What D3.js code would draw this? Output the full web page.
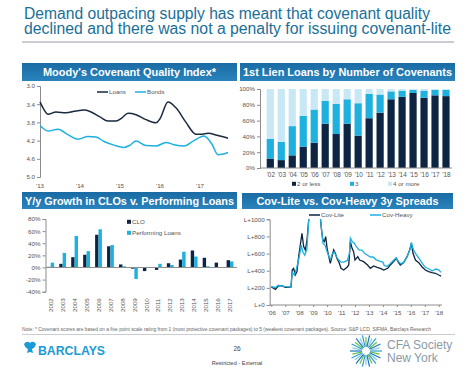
<!DOCTYPE html>
<html><head><meta charset="utf-8">
<script src="https://cdn.jsdelivr.net/npm/d3@7"></script>
<style>body{margin:0;background:#fff}svg{display:block;font-family:Arial,"Liberation Sans",sans-serif}</style>
</head><body><svg id="c" width="474" height="368"></svg>
<script>
// ---------- DATA ----------
const titleLines = ["Demand outpacing supply has meant that covenant quality","declined and there was not a penalty for issuing covenant-lite"];
// Moody's covenant quality index
const moodysTicks = [3.0,3.4,3.8,4.2,4.6,5.0];
const moodysYears = [2013,2014,2015,2016,2017];
const moodysYearLabels = ["'13","'14","'15","'16","'17"];
const loanDates = [2013.0,2013.1,2013.2,2013.4,2013.65,2013.9,2014.1,2014.25,2014.5,2014.7,2014.9,2015.05,2015.2,2015.4,2015.65,2015.9,2016.0,2016.2,2016.4,2016.65,2016.9,2017.05,2017.2,2017.45,2017.7];
const loanValues = [3.35,3.52,3.62,3.57,3.59,3.55,3.53,3.56,3.68,3.77,3.77,3.70,3.60,3.63,3.74,3.81,3.72,3.35,3.48,3.80,4.06,4.06,4.04,4.09,4.15];
const bondDates = [2013.0,2013.2,2013.45,2013.7,2013.95,2014.2,2014.4,2014.6,2014.85,2015.1,2015.25,2015.4,2015.65,2015.9,2016.15,2016.35,2016.6,2016.85,2017.1,2017.3,2017.45,2017.55,2017.7];
const bondValues = [3.87,3.99,3.95,4.07,4.17,4.11,4.12,4.22,4.30,4.35,4.30,4.21,4.31,4.32,4.24,4.29,4.32,4.20,4.10,4.28,4.51,4.50,4.46];
// 1st lien loans by number of covenants (%)
const lienYears = ["'02","'03","'04","'05","'06","'07","'08","'09","'10","'11","'12","'13","'14","'15","'16","'17","'18"];
const twoOrLess = [12,10,16,27,32,56,43,56,41,63,70,87,90,95,89,92,91];
const three     = [25,23,37,39,42,29,38,31,41,31,23,10,8,4,9,7,8];
const fourOrMore= [63,67,47,34,26,15,19,13,18,6,7,3,2,1,2,1,1];
const lienTicks = [0,20,40,60,80,100];
// Y/y growth CLO vs performing loans (%)
const growthYears = ["2002","2003","2004","2005","2006","2007","2008","2009","2010","2011","2012","2013","2014","2015","2016","2017"];
const cloGrowth = [1,6,17,21,54,35,5,-2,-6,-4,7,13,28,16,8,12];
const plGrowth  = [8,24,52,27,63,37,2,-19,0,6,4,26,18,2,0,10];
const growthTicks = [80,60,40,20,0,-20,-40];
// Cov-lite vs cov-heavy 3y spreads (bps over L)
const spreadYears = [2006,2007,2008,2009,2010,2011,2012,2013,2014,2015,2016,2017,2018];
const spreadYearLabels = ["'06","'07","'08","'09","'10","'11","'12","'13","'14","'15","'16","'17","'18"];
const spreadTicks = [0,200,400,600,800,1000];
const liteDates = [2006.0,2006.15,2006.3,2006.5,2006.75,2007.0,2007.2,2007.42,2007.5,2007.6,2007.72,2007.84,2007.96,2008.13,2008.2,2008.32,2008.44,2008.56,2008.68,2008.8,2009.0,2009.3,2009.5,2009.6,2009.7,2009.8,2009.9,2010.0,2010.1,2010.23,2010.35,2010.47,2010.59,2010.7,2010.83,2011.0,2011.19,2011.43,2011.55,2011.67,2011.79,2011.9,2012.0,2012.2,2012.33,2012.62,2012.9,2013.1,2013.34,2013.58,2013.82,2014.06,2014.34,2014.53,2014.77,2014.96,2015.08,2015.25,2015.49,2015.73,2015.92,2016.04,2016.16,2016.33,2016.57,2016.8,2017.04,2017.28,2017.52,2017.76,2018.0,2018.17];
const liteValues = [214,195,183,222,225,206,205,210,408,428,350,389,564,758,836,681,642,758,992,1300,1500,1400,1050,875,758,739,797,661,583,486,564,642,603,545,506,428,408,440,467,739,661,622,525,564,525,506,467,428,455,440,428,408,428,467,506,545,506,467,494,564,642,720,603,525,494,447,408,389,377,370,350,338];
const heavyDates = [2006.0,2006.3,2006.5,2007.0,2007.4,2007.5,2007.65,2007.8,2008.0,2008.15,2008.25,2008.4,2008.55,2008.68,2008.8,2009.0,2009.3,2009.5,2009.7,2009.85,2010.0,2010.15,2010.25,2010.35,2010.5,2010.6,2010.75,2011.0,2011.2,2011.45,2011.6,2011.67,2011.8,2011.95,2012.1,2012.3,2012.5,2012.7,2012.9,2013.1,2013.3,2013.5,2013.8,2014.0,2014.1,2014.3,2014.5,2014.75,2014.95,2015.1,2015.3,2015.5,2015.75,2015.95,2016.04,2016.2,2016.35,2016.6,2016.85,2017.05,2017.3,2017.55,2017.8,2018.0,2018.17];
const heavyValues = [215,205,230,215,210,380,350,420,560,700,620,580,650,980,1300,1500,1400,1050,720,700,620,560,530,590,620,590,540,500,500,520,600,780,740,720,680,640,640,600,580,560,560,530,510,500,460,450,480,520,550,510,480,500,570,650,730,640,600,540,480,440,420,400,420,410,380];
const noteText = "Note: * Covenant scores are based on a five point scale rating from 1 (most protective covenant packages) to 5 (weakest covenant packages). Source: S&P LCD, SIFMA, Barclays Research";

// ---------- STYLE ----------
const NAVY="#0d2542", CYAN="#1eb0de", LIGHT="#c8e8f6", AX="#8c8c8c", TXT="#555";
const FONT = "Arial,'Liberation Sans',sans-serif";
const svg = d3.select("#c");
const defs = svg.append("defs");
const gr = defs.append("linearGradient").attr("id","hdr").attr("x1",0).attr("y1",0).attr("x2",0).attr("y2",1);
gr.append("stop").attr("offset","0%").attr("stop-color","#1a6ba3");
gr.append("stop").attr("offset","100%").attr("stop-color","#2983bd");

// title
svg.append("g").selectAll("text").data(titleLines).join("text")
  .attr("x",24).attr("y",(d,i)=>18.5+i*15.5).attr("font-size",15.6).attr("fill","#1a6f98")
  .attr("textLength",(d,i)=>i?427:406).attr("lengthAdjust","spacingAndGlyphs").text(d=>d);
svg.append("line").attr("x1",22).attr("x2",454).attr("y1",42).attr("y2",42).attr("stroke","#c9cdd1").attr("stroke-width",2);

function header(x,y,w,h,text,tw){
  svg.append("rect").attr("x",x).attr("y",y).attr("width",w).attr("height",h).attr("fill","url(#hdr)");
  svg.append("text").attr("x",x+w/2).attr("y",y+h/2+4).attr("text-anchor","middle")
    .attr("font-size",10.9).attr("font-weight","bold").attr("fill","#fff")
    .attr("textLength",tw).attr("lengthAdjust","spacingAndGlyphs").text(text);
}
header(22,63,215,18,"Moody's Covenant Quality Index*",173);
header(240,63,215,18,"1st Lien Loans by Number of Covenants",209);
header(22,192,215,17,"Y/y Growth in CLOs v. Performing Loans",209);
header(242,193,211,16,"Cov-Lite vs. Cov-Heavy 3y Spreads",182);

function styleAxis(sel){
  sel.selectAll("path,line").attr("stroke",AX);
  sel.selectAll("text").attr("fill",TXT).attr("font-size",6.2).attr("font-family",FONT);
}
function legendLine(x,y,color,label){
  svg.append("line").attr("x1",x).attr("x2",x+11).attr("y1",y).attr("y2",y).attr("stroke",color).attr("stroke-width",1.5);
  svg.append("text").attr("x",x+12).attr("y",y+2.2).attr("font-size",6.2).attr("fill",TXT).text(label);
}
function legendSq(x,y,color,label){
  svg.append("rect").attr("x",x).attr("y",y-2.2).attr("width",4).attr("height",4).attr("fill",color);
  svg.append("text").attr("x",x+5).attr("y",y+2.2).attr("font-size",6.2).attr("fill",TXT).text(label);
}

// ---------- Moody's ----------
{
  const x = d3.scaleLinear().domain([2013,2017]).range([40,200]);
  const y = d3.scaleLinear().domain([3.0,5.0]).range([86,177]);
  const ya = svg.append("g").attr("transform","translate(40,0)")
    .call(d3.axisLeft(y).tickValues(moodysTicks).tickFormat(d3.format(".1f")).tickSize(3).tickPadding(2));
  styleAxis(ya);
  svg.append("g").selectAll("text").data(moodysYears).join("text")
    .attr("x",d=>x(d)).attr("y",188).attr("text-anchor","middle").attr("font-size",6.2).attr("fill",TXT)
    .text((d,i)=>moodysYearLabels[i]);
  const line = d3.line().x(d=>x(d[0])).y(d=>y(d[1])).curve(d3.curveMonotoneX);
  svg.append("path").attr("d",line(d3.zip(bondDates,bondValues))).attr("fill","none").attr("stroke",CYAN).attr("stroke-width",1.5);
  svg.append("path").attr("d",line(d3.zip(loanDates,loanValues))).attr("fill","none").attr("stroke","#1b2a3e").attr("stroke-width",1.5);
  legendLine(97,92,"#1b2a3e","Loans");
  legendLine(135,92,CYAN,"Bonds");
}

// ---------- 1st Lien ----------
{
  const x = d3.scalePoint().domain(lienYears).range([270.3,446]);
  const y = d3.scaleLinear().domain([0,100]).range([168,89]);
  const rows = lienYears.map((k,i)=>({k, a:twoOrLess[i], b:three[i], c:fourOrMore[i]}));
  const stack = d3.stack().keys(["a","b","c"]).value((d,key)=>d[key])(rows);
  const cols = [NAVY,CYAN,LIGHT];
  svg.append("g").selectAll("g").data(stack).join("g").attr("fill",(d,i)=>cols[i])
    .selectAll("rect").data(d=>d).join("rect")
    .attr("x",d=>x(d.data.k)-3.6).attr("width",7.2)
    .attr("y",d=>y(Math.min(100,d[1]))).attr("height",d=>y(d[0])-y(Math.min(100,d[1])));
  const ya = svg.append("g").attr("transform","translate(260,0)")
    .call(d3.axisLeft(y).tickValues(lienTicks).tickFormat(d=>d+"%").tickSize(3).tickPadding(2));
  styleAxis(ya);
  const xa = svg.append("g").attr("transform","translate(0,168)")
    .call(d3.axisBottom(x).tickSize(0).tickPadding(4));
  xa.select(".domain").attr("d","M260,0H452");
  styleAxis(xa);
  xa.selectAll(".tick text").attr("font-size",6.4);
  legendSq(292,184,NAVY,"2 or less");
  legendSq(350,184,CYAN,"3");
  legendSq(388,184,LIGHT,"4 or more");
}

// ---------- Y/y growth ----------
{
  const x = d3.scalePoint().domain(growthYears).range([50.7,230]);
  const y = d3.scaleLinear().domain([-40,80]).range([291.7,219]);
  const ya = svg.append("g").attr("transform","translate(45.5,0)")
    .call(d3.axisLeft(y).tickValues(growthTicks).tickFormat(d=>d+"%").tickSize(3).tickPadding(2));
  styleAxis(ya);
  const bw = 3.4;
  svg.append("g").selectAll("rect").data(growthYears).join("rect")
    .attr("x",d=>x(d)-bw).attr("width",bw)
    .attr("y",(d,i)=>y(Math.max(0,cloGrowth[i]))).attr("height",(d,i)=>Math.abs(y(cloGrowth[i])-y(0)))
    .attr("fill",NAVY);
  svg.append("g").selectAll("rect").data(growthYears).join("rect")
    .attr("x",d=>x(d)).attr("width",bw)
    .attr("y",(d,i)=>y(Math.max(0,plGrowth[i]))).attr("height",(d,i)=>Math.abs(y(plGrowth[i])-y(0)))
    .attr("fill",CYAN);
  svg.append("line").attr("x1",45.5).attr("x2",237).attr("y1",y(0)).attr("y2",y(0)).attr("stroke",AX);
  svg.append("g").selectAll("text").data(growthYears).join("text")
    .attr("transform",d=>`translate(${x(d)+2.2},${312}) rotate(-90)`)
    .attr("font-size",6.2).attr("fill",TXT).text(d=>d);
  legendSq(127,222,NAVY,"CLO");
  legendSq(127,233,CYAN,"Performing Loans");
}

// ---------- Spreads ----------
{
  const x = d3.scaleLinear().domain([2006,2018]).range([271.3,438.7]);
  const y = d3.scaleLinear().domain([0,1000]).range([305,219.3]);
  defs.append("clipPath").attr("id","sclip").append("rect").attr("x",265).attr("y",y(1000)).attr("width",190).attr("height",y(0)-y(1000));
  const ya = svg.append("g").attr("transform","translate(269.7,0)")
    .call(d3.axisLeft(y).tickValues(spreadTicks).tickFormat(d=>"L+"+d).tickSize(3).tickPadding(2));
  styleAxis(ya);
  const xa = svg.append("g").attr("transform","translate(0,305)")
    .call(d3.axisBottom(x).tickValues(spreadYears).tickFormat((d,i)=>spreadYearLabels[i]).tickSize(2).tickPadding(4));
  xa.select(".domain").attr("d","M269.7,0H442");
  styleAxis(xa);
  const line = d3.line().x(d=>x(d[0])).y(d=>y(d[1]));
  const pg = svg.append("g").attr("clip-path","url(#sclip)");
  pg.append("path").attr("d",line(d3.zip(liteDates,liteValues))).attr("fill","none").attr("stroke",NAVY).attr("stroke-width",1.3);
  pg.append("path").attr("d",line(d3.zip(heavyDates,heavyValues))).attr("fill","none").attr("stroke",CYAN).attr("stroke-width",1.3);
  legendLine(309,215,NAVY,"Cov-Lite");
  legendLine(370,215,CYAN,"Cov-Heavy");
}

// ---------- footer ----------
svg.append("text").attr("x",22).attr("y",331).attr("font-size",4.6).attr("fill","#666")
  .attr("textLength",409).attr("lengthAdjust","spacingAndGlyphs").text(noteText);
svg.append("line").attr("x1",22).attr("x2",455).attr("y1",334.5).attr("y2",334.5).attr("stroke","#c9cdd1").attr("stroke-width",1);
// Barclays eagle (simple)
svg.append("path").attr("d","M24,344 q3,-4 6,-1 q3,-3 6,1 q-1,4 -4,5 l1,4 l-3,-1 l-3,1 l1,-4 q-3,-1 -4,-5z").attr("fill","#1a9ad6");
svg.append("text").attr("x",38).attr("y",355).attr("font-size",13).attr("font-weight","bold").attr("fill","#1a9ad6")
  .attr("textLength",67).attr("lengthAdjust","spacingAndGlyphs").text("BARCLAYS");
svg.append("text").attr("x",237).attr("y",351).attr("text-anchor","middle").attr("font-size",6.5).attr("fill","#444").text("26");
svg.append("text").attr("x",237).attr("y",365).attr("text-anchor","middle").attr("font-size",5.6).attr("fill","#444").text("Restricted - External");
// CFA starburst
{
  const cx=366, cy=351, n=28;
  const cs=["#2a9fd6","#6cc04a","#1a75bb","#8cc8e8"];
  svg.append("g").selectAll("line").data(d3.range(n)).join("line")
    .attr("x1",i=>cx+4*Math.cos(i/n*2*Math.PI)).attr("y1",i=>cy+4*Math.sin(i/n*2*Math.PI))
    .attr("x2",i=>cx+(i%2?14:16)*Math.cos(i/n*2*Math.PI)).attr("y2",i=>cy+(i%2?14:16)*Math.sin(i/n*2*Math.PI))
    .attr("stroke",i=>cs[i%4]).attr("stroke-width",1.2);
}
svg.append("text").attr("x",387).attr("y",349).attr("font-size",12).attr("fill","#8a9aa6").text("CFA Society");
svg.append("text").attr("x",387).attr("y",362).attr("font-size",12).attr("fill","#8a9aa6").text("New York");
</script></body></html>
